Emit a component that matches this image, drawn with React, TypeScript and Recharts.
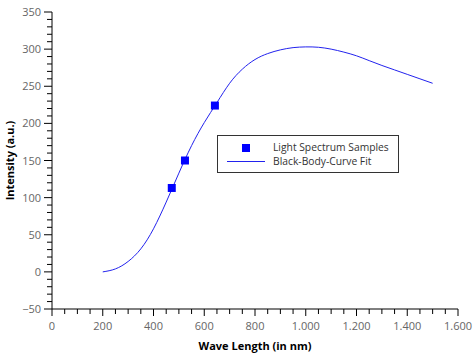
import { ComposedChart, Line, Scatter, XAxis, YAxis, Legend } from 'recharts';

// black-body fit curve
const fitWaveLengths = [200, 250, 300, 350, 400, 450, 500, 550, 600, 650, 700, 750, 800, 850, 900, 950, 1000, 1050, 1100, 1150, 1200, 1250, 1300, 1350, 1400, 1450, 1500];
const fitIntensity = [0, 4, 14, 31, 58, 94, 133, 170, 201, 228, 254, 273, 286, 294, 299, 302, 303, 302.5, 300, 296, 291, 284.5, 278, 272, 266, 260, 254];

// measured samples
const sampleWaveLengths = [472, 524, 642];
const sampleIntensity = [113, 150, 224];

const xTicks = Array.from({ length: 33 }, (_, i) => i * 50);
const yTicks = Array.from({ length: 41 }, (_, i) => -50 + i * 10);

const FONT = '"Open Sans", sans-serif';

const fitData = fitWaveLengths.map((x, i) => ({ x, fit: fitIntensity[i] }));
const sampleData = sampleWaveLengths.map((x, i) => ({ x, y: sampleIntensity[i] }));

const fmt = (v: number) => (v >= 1000 ? `${Math.floor(v / 1000)}.${String(v % 1000).padStart(3, '0')}` : `${v}`);

const XTick = ({ x, y, payload }: any) => {
  const major = payload.value % 200 === 0;
  return (
    <g>
      <line x1={x} x2={x} y1={y} y2={y + (major ? 7 : 5)} stroke="#000" />
      {major && (
        <text x={x} y={y + 21} textAnchor="middle" fontSize={11} fill="#666" fontFamily={FONT}>
          {fmt(payload.value)}
        </text>
      )}
    </g>
  );
};

const YTick = ({ x, y, payload }: any) => {
  const major = payload.value % 50 === 0;
  return (
    <g>
      <line x1={x - (major ? 8 : 5)} x2={x} y1={y} y2={y} stroke="#000" />
      {major && (
        <text x={x - 11} y={y + 4} textAnchor="end" fontSize={11} fill="#666" fontFamily={FONT}>
          {payload.value < 0 ? `\u2212${-payload.value}` : payload.value}
        </text>
      )}
    </g>
  );
};

const LegendBox = () => (
  <div style={{
    position: 'absolute', left: 217, top: 135, width: 182, height: 38,
    border: '1px solid #333', background: '#fff', fontFamily: FONT, fontSize: 10.3, lineHeight: '12px', color: '#333',
    boxSizing: 'border-box',
  }}>
    <div style={{ position: 'absolute', left: 24, top: 8, width: 8, height: 8, background: '#0000ff' }} />
    <div style={{ position: 'absolute', left: 55, top: 5 }}>Light Spectrum Samples</div>
    <div style={{ position: 'absolute', left: 9, top: 25, width: 38, height: 1, background: '#2222ee' }} />
    <div style={{ position: 'absolute', left: 55, top: 19 }}>Black-Body-Curve Fit</div>
  </div>
);

export default function App() {
  return (
    <div style={{ position: 'fixed', left: 0, top: 0, width: 474, height: 355, background: '#fff' }}>
      <ComposedChart width={474} height={355} margin={{ top: 12, right: 16, bottom: 0, left: 8 }}>
        <XAxis
          dataKey="x"
          type="number"
          domain={[0, 1600]}
          ticks={xTicks}
          interval={0}
          tickSize={0}
          tickMargin={0}
          tick={<XTick />}
          height={46}
          stroke="#000"
          allowDuplicatedCategory={false}
          label={{ value: 'Wave Length (in nm)', position: 'insideBottom', offset: 5, fontSize: 11, fontWeight: 'bold', fill: '#000', fontFamily: FONT }}
        />
        <YAxis
          type="number"
          domain={[-50, 350]}
          ticks={yTicks}
          interval={0}
          tickSize={0}
          tickMargin={0}
          tick={<YTick />}
          width={44}
          stroke="#000"
          label={{ value: 'Intensity (a.u.)', angle: -90, position: 'insideLeft', offset: 0, dx: 2, fontSize: 11, fontWeight: 'bold', fill: '#000', fontFamily: FONT, style: { textAnchor: 'middle' } }}
        />
        <Legend content={<LegendBox />} wrapperStyle={{ position: 'absolute', left: 0, top: 0, width: 0, height: 0 }} />
        <Line
          data={fitData}
          dataKey="fit"
          type="natural"
          stroke="#2222ee"
          strokeWidth={1}
          dot={false}
          isAnimationActive={false}
          name="Black-Body-Curve Fit"
        />
        <Scatter
          data={sampleData}
          dataKey="y"
          fill="#0000ff"
          shape="square"
          isAnimationActive={false}
          name="Light Spectrum Samples"
        />
      </ComposedChart>
    </div>
  );
}
